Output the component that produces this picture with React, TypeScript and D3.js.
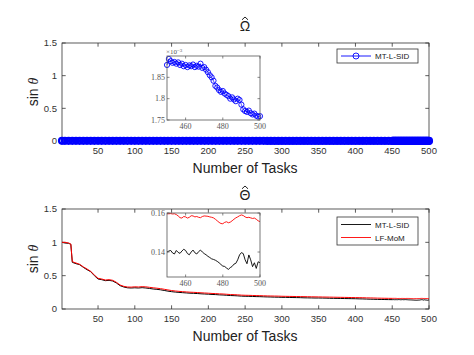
import React from "react";
import * as d3 from "d3";

// ---------- data ----------
const xTicks = [50, 100, 150, 200, 250, 300, 350, 400, 450, 500];
const yTicks = [0, 0.5, 1, 1.5];
const yTickLabels = ["0", "0.5", "1", "1.5"];

// Top panel (Omega hat), values in units of 1e-3
const EXP = 1e-3;
const omegaTasks = [
  1, 5, 10, 15, 20, 25, 30, 35, 40, 45, 50, 55, 60, 65, 70, 75, 80, 85, 90, 95,
  100, 105, 110, 115, 120, 125, 130, 135, 140, 145, 150, 155, 160, 165, 170, 175, 180, 185, 190, 195,
  200, 205, 210, 215, 220, 225, 230, 235, 240, 245, 250, 255, 260, 265, 270, 275, 280, 285, 290, 295,
  300, 305, 310, 315, 320, 325, 330, 335, 340, 345, 350, 355, 360, 365, 370, 375, 380, 385, 390, 395,
  400, 405, 410, 415, 420, 425, 430, 435, 440, 445,
];
const omegaVals = [
  2.95, 2.71, 2.58, 2.49, 2.44, 2.38, 2.35, 2.31, 2.28, 2.26,
  2.24, 2.22, 2.2, 2.19, 2.17, 2.16, 2.15, 2.13, 2.12, 2.11,
  2.1, 2.09, 2.08, 2.07, 2.07, 2.06, 2.05, 2.04, 2.04, 2.03,
  2.02, 2.02, 2.01, 2.0, 2.0, 1.99, 1.99, 1.98, 1.98, 1.97,
  1.97, 1.96, 1.96, 1.96, 1.95, 1.95, 1.94, 1.94, 1.94, 1.93,
  1.93, 1.93, 1.92, 1.92, 1.92, 1.92, 1.91, 1.91, 1.91, 1.91,
  1.9, 1.9, 1.9, 1.9, 1.9, 1.89, 1.89, 1.89, 1.89, 1.89,
  1.89, 1.89, 1.88, 1.88, 1.88, 1.88, 1.88, 1.88, 1.88, 1.88,
  1.88, 1.88, 1.88, 1.88, 1.88, 1.88, 1.88, 1.88, 1.88, 1.88,
];
const insetTasks = [
  450, 451, 452, 453, 454, 455, 456, 457, 458, 459, 460, 461, 462, 463, 464, 465, 466, 467, 468, 469,
  470, 471, 472, 473, 474, 475, 476, 477, 478, 479, 480, 481, 482, 483, 484, 485, 486, 487, 488, 489,
  490, 491, 492, 493, 494, 495, 496, 497, 498, 499, 500,
];
const omegaInset = [
  1.879, 1.893, 1.888, 1.884, 1.886, 1.882, 1.885, 1.879, 1.882, 1.876,
  1.879, 1.874, 1.878, 1.876, 1.88, 1.874, 1.877, 1.875, 1.882, 1.872,
  1.874, 1.868, 1.862, 1.855, 1.85, 1.842, 1.83, 1.826, 1.82, 1.816,
  1.818, 1.812, 1.809, 1.806, 1.8, 1.803, 1.798, 1.794, 1.8, 1.797,
  1.786, 1.775, 1.771, 1.769, 1.772, 1.766, 1.763, 1.765, 1.76, 1.758, 1.759,
];

// Bottom panel (Theta hat)
const thetaTasks = [
  1, 5, 10, 13,
  15, 20, 25, 30, 35, 40, 45, 50,
  55, 60, 65, 70, 75, 80, 85, 90, 95, 100,
  105, 110, 115, 120, 125, 130, 135, 140, 145, 150,
  155, 160, 165, 170, 175, 180, 185, 190, 195, 200,
  205, 210, 215, 220, 225, 230, 235, 240, 245, 250,
  255, 260, 265, 270, 275, 280, 285, 290, 295, 300,
  305, 310, 315, 320, 325, 330, 335, 340, 345, 350,
  355, 360, 365, 370, 375, 380, 385, 390, 395, 400,
  405, 410, 415, 420, 425, 430, 435, 440, 445,
];
const mtlsidVals = [
  1.0, 0.99, 0.985, 0.97,
  0.7, 0.68, 0.665, 0.625, 0.59, 0.56, 0.5, 0.45,
  0.44, 0.425, 0.43, 0.42, 0.39, 0.35, 0.33, 0.318, 0.315, 0.318,
  0.315, 0.32, 0.315, 0.308, 0.3, 0.295, 0.288, 0.278, 0.268, 0.26,
  0.254, 0.249, 0.245, 0.241, 0.237, 0.235, 0.232, 0.228, 0.225, 0.222,
  0.218, 0.216, 0.212, 0.21, 0.206, 0.202, 0.2, 0.197, 0.193, 0.191,
  0.19, 0.188, 0.186, 0.185, 0.183, 0.181, 0.18, 0.178, 0.177, 0.175,
  0.175, 0.173, 0.172, 0.171, 0.17, 0.168, 0.167, 0.166, 0.165, 0.165,
  0.164, 0.163, 0.161, 0.16, 0.159, 0.158, 0.157, 0.156, 0.155, 0.154,
  0.152, 0.151, 0.149, 0.147, 0.146, 0.144, 0.143, 0.142, 0.141,
];
const lfmomVals = [
  1.0, 1.0, 0.99, 0.975,
  0.71, 0.69, 0.67, 0.632, 0.6, 0.565, 0.51, 0.46,
  0.45, 0.435, 0.44, 0.43, 0.4, 0.36, 0.34, 0.33, 0.328, 0.333,
  0.33, 0.335, 0.332, 0.325, 0.318, 0.312, 0.305, 0.296, 0.286, 0.277,
  0.27, 0.265, 0.26, 0.256, 0.252, 0.25, 0.247, 0.243, 0.24, 0.237,
  0.233, 0.231, 0.227, 0.225, 0.221, 0.217, 0.215, 0.212, 0.208, 0.206,
  0.205, 0.203, 0.201, 0.2, 0.198, 0.196, 0.195, 0.194, 0.193, 0.191,
  0.19, 0.189, 0.188, 0.187, 0.186, 0.185, 0.184, 0.183, 0.182, 0.181,
  0.18, 0.179, 0.178, 0.177, 0.176, 0.175, 0.174, 0.173, 0.172, 0.171,
  0.17, 0.169, 0.167, 0.166, 0.165, 0.163, 0.162, 0.161, 0.16,
];
const mtlsidInset = [
  0.14, 0.1405, 0.1408, 0.1395, 0.139, 0.1408, 0.1398, 0.1393, 0.1405, 0.1414,
  0.1408, 0.1392, 0.1386, 0.14, 0.141, 0.1396, 0.139, 0.1402, 0.141, 0.14,
  0.1392, 0.1386, 0.1378, 0.1372, 0.1365, 0.1362, 0.1358, 0.1352, 0.1345, 0.1336,
  0.1328, 0.1326, 0.1318, 0.1311, 0.132, 0.1326, 0.1338, 0.1342, 0.136, 0.1385,
  0.1397, 0.1392, 0.136, 0.134, 0.1385, 0.136, 0.1325, 0.1345, 0.1316, 0.135, 0.1345,
];
const lfmomInset = [
  0.1596, 0.1596, 0.1597, 0.1595, 0.1596, 0.1592, 0.1585, 0.1576, 0.1574, 0.1582,
  0.158, 0.1574, 0.1578, 0.1586, 0.1585, 0.158, 0.1582, 0.1578, 0.1576, 0.1582,
  0.1585, 0.1584, 0.1583, 0.158, 0.1578, 0.1575, 0.1568, 0.156, 0.1552, 0.1546,
  0.1545, 0.1552, 0.1555, 0.155, 0.1553, 0.156, 0.1568, 0.1575, 0.158, 0.1586,
  0.159, 0.1587, 0.158, 0.1576, 0.1578, 0.1575, 0.1572, 0.1574, 0.1568, 0.156, 0.1556,
];
const insetXTicks = [460, 480, 500];
const omegaInsetYTicks = [1.75, 1.8, 1.85];
const omegaInsetYLabels = ["1.75", "1.8", "1.85"];
const thetaInsetYTicks = [0.14, 0.16];
const thetaInsetYLabels = ["0.14", "0.16"];

// ---------- styles ----------
const SANS = "'Liberation Sans', Arial, sans-serif";
const SERIF = "'Liberation Serif', 'Times New Roman', serif";
const AX = "#333";
const TXT = "#333";
const BLUE = "#0000ff";
const RED = "#ff0000";

type Pt = [number, number];

function Axes({ top, bottom }: { top: number; bottom: number }) {
  const x = d3.scaleLinear().domain([1, 500]).range([62, 429]);
  const y = d3.scaleLinear().domain([0, 1.5]).range([bottom, top]);
  const tl = 3.7;
  return (
    <g>
      <rect x={62} y={top} width={367} height={bottom - top} fill="white" stroke={AX} strokeWidth={0.8} />
      {xTicks.map((t) => (
        <g key={"x" + t}>
          <line x1={x(t)} x2={x(t)} y1={bottom} y2={bottom - tl} stroke={AX} strokeWidth={0.8} />
          <line x1={x(t)} x2={x(t)} y1={top} y2={top + tl} stroke={AX} strokeWidth={0.8} />
          <text x={x(t)} y={bottom + 13} textAnchor="middle" fontFamily={SANS} fontSize={9.5} fill={TXT}>
            {t}
          </text>
        </g>
      ))}
      {yTicks.map((t, i) => (
        <g key={"y" + t}>
          <line x1={62} x2={62 + tl} y1={y(t)} y2={y(t)} stroke={AX} strokeWidth={0.8} />
          <line x1={429} x2={429 - tl} y1={y(t)} y2={y(t)} stroke={AX} strokeWidth={0.8} />
          <text x={57} y={y(t) + 3.3} textAnchor="end" fontFamily={SANS} fontSize={9.5} fill={TXT}>
            {yTickLabels[i]}
          </text>
        </g>
      ))}
      <text x={245} y={bottom + 32} textAnchor="middle" fontFamily={SANS} fontSize={14} fill="#222">
        Number of Tasks
      </text>
      <text
        transform={`translate(38,${(top + bottom) / 2}) rotate(-90)`}
        textAnchor="middle"
        fontFamily={SANS}
        fontSize={14}
        fill="#222"
      >
        sin <tspan fontFamily={SERIF} fontStyle="italic">θ</tspan>
      </text>
    </g>
  );
}

function InsetFrame({
  x,
  y,
  yTickVals,
  yLabels,
}: {
  x: d3.ScaleLinear<number, number>;
  y: d3.ScaleLinear<number, number>;
  yTickVals: number[];
  yLabels: string[];
}) {
  const [x0, x1] = x.range();
  const [y1, y0] = y.range();
  const tl = 2.5;
  return (
    <g>
      <rect x={x0} y={y0} width={x1 - x0} height={y1 - y0} fill="none" stroke="#555" strokeWidth={0.8} />
      {insetXTicks.map((t) => (
        <g key={"ix" + t}>
          <line x1={x(t)} x2={x(t)} y1={y1} y2={y1 - tl} stroke="#555" strokeWidth={0.7} />
          <line x1={x(t)} x2={x(t)} y1={y0} y2={y0 + tl} stroke="#555" strokeWidth={0.7} />
          <text x={x(t)} y={y1 + 9} textAnchor="middle" fontFamily={SERIF} fontSize={8} fill="#555">
            {t}
          </text>
        </g>
      ))}
      {yTickVals.map((t, i) => (
        <g key={"iy" + t}>
          <line x1={x0} x2={x0 + tl} y1={y(t)} y2={y(t)} stroke="#555" strokeWidth={0.7} />
          <line x1={x1} x2={x1 - tl} y1={y(t)} y2={y(t)} stroke="#555" strokeWidth={0.7} />
          <text x={x0 - 2} y={y(t) + 2.8} textAnchor="end" fontFamily={SERIF} fontSize={8} fill="#555">
            {yLabels[i]}
          </text>
        </g>
      ))}
    </g>
  );
}

function Hat({ cx, cy }: { cx: number; cy: number }) {
  return (
    <path
      d={`M${cx - 3},${cy + 1.8} L${cx},${cy - 1} L${cx + 3},${cy + 1.8}`}
      fill="none"
      stroke="#222"
      strokeWidth={1}
    />
  );
}

export default function App() {
  const x = d3.scaleLinear().domain([1, 500]).range([62, 429]);
  const yTop = d3.scaleLinear().domain([0, 1.5]).range([141, 43]);
  const yBot = d3.scaleLinear().domain([0, 1.5]).range([309, 209]);

  const line = (ys: d3.ScaleLinear<number, number>, xs: d3.ScaleLinear<number, number>) =>
    d3
      .line<Pt>()
      .x((d) => xs(d[0]))
      .y((d) => ys(d[1]));

  const omegaAll: Pt[] = [
    ...omegaTasks.map((t, i) => [t, omegaVals[i] * EXP] as Pt),
    ...insetTasks.map((t, i) => [t, omegaInset[i] * EXP] as Pt),
  ];
  const blackAll: Pt[] = [
    ...thetaTasks.map((t, i) => [t, mtlsidVals[i]] as Pt),
    ...insetTasks.map((t, i) => [t, mtlsidInset[i]] as Pt),
  ];
  const redAll: Pt[] = [
    ...thetaTasks.map((t, i) => [t, lfmomVals[i]] as Pt),
    ...insetTasks.map((t, i) => [t, lfmomInset[i]] as Pt),
  ];

  const ixTop = d3.scaleLinear().domain([450, 500]).range([167, 260]);
  const iyTop = d3.scaleLinear().domain([1.75, 1.9]).range([120, 56]);
  const ixBot = d3.scaleLinear().domain([450, 500]).range([167, 260]);
  const iyBot = d3.scaleLinear().domain([0.1272, 0.16]).range([277, 213]);
  const omegaInsetPts: Pt[] = insetTasks.map((t, i) => [t, omegaInset[i]] as Pt);
  const blackInsetPts: Pt[] = insetTasks.map((t, i) => [t, mtlsidInset[i]] as Pt);
  const redInsetPts: Pt[] = insetTasks.map((t, i) => [t, lfmomInset[i]] as Pt);

  return (
    <svg
      width={474}
      height={355}
      style={{ position: "absolute", left: 0, top: 0, background: "white" }}
      xmlns="http://www.w3.org/2000/svg"
    >
      <rect x={0} y={0} width={474} height={355} fill="white" />

      {/* ---------- top panel ---------- */}
      <text x={245} y={31} textAnchor="middle" fontFamily={SANS} fontSize={14} fill="#222">Ω</text>
      <Hat cx={245} cy={18} />
      <Axes top={43} bottom={141} />
      <path d={line(yTop, x)(omegaAll) || ""} fill="none" stroke={BLUE} strokeWidth={0.8} />
      {omegaAll.map((d, i) => (
        <circle key={"om" + i} cx={x(d[0])} cy={yTop(d[1])} r={2.9} fill="none" stroke={BLUE} strokeWidth={2.4} />
      ))}
      {/* inset */}
      <rect x={167} y={56} width={93} height={64} fill="white" />
      <path d={line(iyTop, ixTop)(omegaInsetPts) || ""} fill="none" stroke={BLUE} strokeWidth={0.7} />
      {omegaInsetPts.map((d, i) => (
        <circle key={"oi" + i} cx={ixTop(d[0])} cy={iyTop(d[1])} r={2.6} fill="none" stroke={BLUE} strokeWidth={0.9} />
      ))}
      <InsetFrame x={ixTop} y={iyTop} yTickVals={omegaInsetYTicks} yLabels={omegaInsetYLabels} />
      <text x={166} y={54} fontFamily={SERIF} fontSize={7} fill="#555">
        ×10<tspan dy={-2.5} fontSize={5}>−3</tspan>
      </text>
      {/* legend */}
      <rect x={337} y={49} width={81} height={14} fill="white" stroke="#333" strokeWidth={0.8} />
      <line x1={341} x2={371} y1={56} y2={56} stroke={BLUE} strokeWidth={0.9} />
      <circle cx={356} cy={56} r={3} fill="none" stroke={BLUE} strokeWidth={0.9} />
      <text x={375} y={59} fontFamily={SANS} fontSize={8} fill="#222">MT-L-SID</text>

      {/* ---------- bottom panel ---------- */}
      <text x={245} y={200} textAnchor="middle" fontFamily={SANS} fontSize={14} fill="#222">Θ</text>
      <Hat cx={245} cy={187} />
      <Axes top={209} bottom={309} />
      <path d={line(yBot, x)(blackAll) || ""} fill="none" stroke="#000" strokeWidth={1} />
      <path d={line(yBot, x)(redAll) || ""} fill="none" stroke={RED} strokeWidth={1} />
      {/* inset */}
      <rect x={167} y={213} width={93} height={64} fill="white" />
      <path d={line(iyBot, ixBot)(redInsetPts) || ""} fill="none" stroke={RED} strokeWidth={0.9} />
      <path d={line(iyBot, ixBot)(blackInsetPts) || ""} fill="none" stroke="#000" strokeWidth={0.9} />
      <InsetFrame x={ixBot} y={iyBot} yTickVals={thetaInsetYTicks} yLabels={thetaInsetYLabels} />
      {/* legend */}
      <rect x={337} y={217} width={81} height={28} fill="white" stroke="#333" strokeWidth={0.8} />
      <line x1={341} x2={371} y1={224.5} y2={224.5} stroke="#000" strokeWidth={0.9} />
      <text x={375} y={227.5} fontFamily={SANS} fontSize={8} fill="#222">MT-L-SID</text>
      <line x1={341} x2={371} y1={237.5} y2={237.5} stroke={RED} strokeWidth={0.9} />
      <text x={375} y={240.5} fontFamily={SANS} fontSize={8} fill="#222">LF-MoM</text>
    </svg>
  );
}
